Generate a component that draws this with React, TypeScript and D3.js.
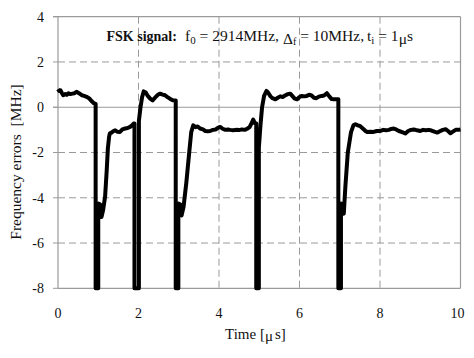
import React from "react";
import * as d3 from "d3";

const times: number[] = [
  0.0, 0.03, 0.06, 0.1, 0.13, 0.18, 0.22, 0.26, 0.31, 0.36, 0.41, 0.46, 0.52, 0.59, 0.65, 0.71, 0.77, 0.84, 0.89, 0.935,
  0.935, 1.0, 1.0, 1.05, 1.08, 1.12, 1.17, 1.21, 1.24, 1.27, 1.29, 1.33, 1.38, 1.42, 1.47, 1.54, 1.6, 1.67, 1.73, 1.79, 1.84, 1.88, 1.9,
  1.9, 2.01, 2.01, 2.05, 2.09, 2.13, 2.18, 2.23, 2.29, 2.35, 2.41, 2.48, 2.54, 2.6, 2.66, 2.72, 2.78, 2.85, 2.925,
  2.925, 2.99, 2.99, 3.04, 3.07, 3.12, 3.19, 3.26, 3.31, 3.36, 3.42, 3.47, 3.53, 3.6, 3.66, 3.72, 3.78, 3.85, 3.92, 3.98,
  4.03, 4.09, 4.16, 4.22, 4.28, 4.35, 4.42, 4.5, 4.57, 4.64, 4.7, 4.76, 4.81, 4.85, 4.89, 4.925,
  4.925, 4.99, 4.99, 5.03, 5.07, 5.12, 5.18, 5.23, 5.28, 5.33, 5.4, 5.46, 5.52, 5.58, 5.64, 5.71, 5.77, 5.82, 5.88, 5.94,
  6.0, 6.06, 6.12, 6.18, 6.24, 6.3, 6.36, 6.42, 6.48, 6.55, 6.61, 6.68, 6.74, 6.8, 6.85, 6.965,
  6.965, 7.03, 7.03, 7.1, 7.14, 7.2, 7.28, 7.34, 7.39, 7.45, 7.51, 7.58, 7.64, 7.68, 7.76, 7.84, 7.92, 8.01,
  8.08, 8.15, 8.22, 8.28, 8.34, 8.4, 8.47, 8.55, 8.63, 8.7, 8.77, 8.84, 8.92, 9.0, 9.07, 9.14, 9.21, 9.28,
  9.35, 9.42, 9.5, 9.56, 9.63, 9.69, 9.75, 9.81, 9.88, 9.94, 10.0,
];

const values: number[] = [
  0.8, 0.72, 0.75, 0.62, 0.53, 0.58, 0.55, 0.62, 0.58, 0.6, 0.62, 0.68, 0.62, 0.53, 0.5, 0.46, 0.4, 0.26, 0.18, 0.15,
  -8, -8, -4.25, -4.3, -4.85, -4.55, -3.95, -2.8, -1.8, -1.3, -1.15, -1.12, -1.05, -1.02, -1.08, -1.09, -0.98, -0.94, -0.92, -0.87, -0.8, -0.72, -0.72,
  -8, -8, -0.6, 0.0, 0.45, 0.7, 0.65, 0.5, 0.38, 0.3, 0.42, 0.55, 0.6, 0.56, 0.53, 0.45, 0.38, 0.31, 0.3,
  -8, -8, -4.25, -4.3, -4.78, -4.4, -3.3, -2.0, -1.1, -0.8, -0.88, -0.85, -0.94, -0.98, -1.05, -1.06, -1.05, -1.0, -0.98, -0.9,
  -0.87, -0.95, -1.0, -0.98, -1.0, -1.02, -1.0, -1.01, -0.98, -1.0, -0.95, -0.88, -0.7, -0.55, -0.7, -0.72,
  -8, -8, -1.8, -0.8, 0.0, 0.5, 0.72, 0.62, 0.48, 0.4, 0.35, 0.42, 0.48, 0.45, 0.52, 0.58, 0.6, 0.5, 0.38, 0.35,
  0.45, 0.5, 0.48, 0.5, 0.55, 0.52, 0.42, 0.4, 0.47, 0.5, 0.52, 0.62, 0.48, 0.36, 0.35, 0.35,
  -8, -8, -4.25, -4.7, -3.5, -2.0, -1.1, -0.8, -0.75, -0.8, -0.84, -0.95, -1.05, -1.09, -1.08, -1.09, -1.05, -1.05,
  -1.0, -1.02, -1.0, -0.96, -0.94, -0.98, -1.05, -1.1, -1.16, -1.05, -1.0, -0.98, -1.02, -1.05, -1.0, -1.02, -1.0, -1.03,
  -1.08, -1.12, -1.05, -1.0, -0.97, -1.05, -1.15, -1.08, -1.0, -1.0, -0.98,
];

const xTicks: number[] = [0, 2, 4, 6, 8, 10];
const yTicks: number[] = [4, 2, 0, -2, -4, -6, -8];

const W = 474;
const H = 358;
const SERIF = "'Liberation Serif', 'Times New Roman', serif";

export default function App() {
  const x = d3.scaleLinear().domain([0, 10]).range([58, 460.5]);
  const y = d3.scaleLinear().domain([-8, 4]).range([288.3, 16.7]);
  const pts: [number, number][] = times.map((t, i) => [t, values[i]]);
  const line = d3
    .line<[number, number]>()
    .x((d) => x(d[0]))
    .y((d) => y(d[1]));
  const grid = "#9a9a9a";

  return (
    <svg
      width={W}
      height={H}
      style={{ position: "absolute", left: 0, top: 0, background: "#fff" }}
    >
      <rect x={0} y={0} width={W} height={H} fill="#fff" />
      {yTicks
        .filter((v) => v !== 4 && v !== 0 && v !== -8)
        .map((v) => (
          <line
            key={"hg" + v}
            x1={x(0)}
            x2={x(10)}
            y1={y(v)}
            y2={y(v)}
            stroke={grid}
            strokeWidth={1}
            strokeDasharray="7,4"
          />
        ))}
      {xTicks
        .filter((v) => v !== 0 && v !== 10)
        .map((v) => (
          <line
            key={"vg" + v}
            x1={x(v)}
            x2={x(v)}
            y1={y(4)}
            y2={y(-8)}
            stroke={grid}
            strokeWidth={1}
            strokeDasharray="7,4"
          />
        ))}
      <line x1={x(0) - 5} x2={x(10)} y1={y(4)} y2={y(4)} stroke={grid} strokeWidth={1.2} />
      <line x1={x(0)} x2={x(10)} y1={y(-8)} y2={y(-8)} stroke={grid} strokeWidth={1.2} />
      <line x1={x(10)} x2={x(10)} y1={y(4)} y2={y(-8)} stroke={grid} strokeWidth={1.2} />
      <line x1={x(0)} x2={x(0)} y1={y(4)} y2={y(-8)} stroke={grid} strokeWidth={1.2} />
      <line x1={x(0) - 5} x2={x(10)} y1={y(0)} y2={y(0)} stroke={grid} strokeWidth={1.2} />
      {yTicks.map((v) => (
        <line key={"yt" + v} x1={x(0) - 5} x2={x(0)} y1={y(v)} y2={y(v)} stroke={grid} strokeWidth={1} />
      ))}
      {yTicks.map((v) => (
        <text
          key={"yl" + v}
          x={44}
          y={y(v)}
          dy="0.35em"
          textAnchor="end"
          fontFamily={SERIF}
          fontSize={14}
          fill="#111"
        >
          {v}
        </text>
      ))}
      {xTicks.map((v) => (
        <text
          key={"xl" + v}
          x={v === 10 ? x(v) - 3 : x(v)}
          y={317.5}
          textAnchor="middle"
          fontFamily={SERIF}
          fontSize={14}
          fill="#111"
        >
          {v}
        </text>
      ))}
      <text x={225} y={339} fontFamily={SERIF} fontSize={15} fill="#111">
        Time [<tspan dy={2}>μ</tspan>
        <tspan dy={-2} dx={2}>s]</tspan>
      </text>
      <text
        transform={`translate(21,162) rotate(-90)`}
        textAnchor="middle"
        fontFamily={SERIF}
        fontSize={15.5}
        fill="#111"
        style={{ whiteSpace: "pre" }}
      >
        {"Frequency errors  [MHz]"}
      </text>
      <text y={41} fontFamily={SERIF} fontSize={15.5} fill="#111" style={{ whiteSpace: "pre" }}>
        <tspan x={106.5} fontWeight="bold" fontSize={14}>FSK signal:</tspan>
        <tspan x={185}>f</tspan>
        <tspan dy={3} fontSize={11}>0</tspan>
        <tspan dy={-3}>{" = 2914MHz,"}</tspan>
        <tspan x={283} dy={3}>Δ</tspan>
        <tspan dy={1} fontSize={10}>f</tspan>
        <tspan dy={-4}>{" = 10MHz,"}</tspan>
        <tspan x={367}>t</tspan>
        <tspan dy={3} fontSize={11}>i</tspan>
        <tspan dy={-3}>{" = 1"}</tspan>
        <tspan dy={3}>μ</tspan>
        <tspan dy={-3}>s</tspan>
      </text>
      <path
        d={line(pts) || ""}
        fill="none"
        stroke="#000"
        strokeWidth={4}
        strokeLinejoin="round"
        strokeLinecap="butt"
      />
    </svg>
  );
}
